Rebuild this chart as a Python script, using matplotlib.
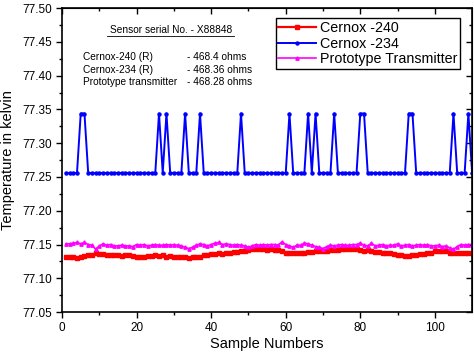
import numpy as np
import matplotlib
matplotlib.use("Agg")
import matplotlib.pyplot as plt

plt.rcParams["font.family"] = ["Liberation Sans", "DejaVu Sans"]

# ------------------ Data ------------------
samples = np.arange(1, 111)

cernox_240 = [
    77.132, 77.131, 77.131, 77.130, 77.131, 77.133, 77.134, 77.135, 77.137, 77.136,
    77.136, 77.135, 77.135, 77.134, 77.134, 77.133, 77.134, 77.134, 77.133, 77.131,
    77.132, 77.132, 77.133, 77.133, 77.134, 77.133, 77.134, 77.132, 77.133, 77.132,
    77.132, 77.131, 77.131, 77.130, 77.131, 77.132, 77.131, 77.134, 77.134, 77.136,
    77.136, 77.137, 77.136, 77.137, 77.138, 77.139, 77.139, 77.140, 77.141, 77.142,
    77.143, 77.144, 77.144, 77.143, 77.142, 77.143, 77.142, 77.142, 77.141, 77.138,
    77.138, 77.138, 77.137, 77.138, 77.138, 77.139, 77.139, 77.140, 77.140, 77.141,
    77.141, 77.142, 77.142, 77.142, 77.143, 77.143, 77.144, 77.144, 77.143, 77.142,
    77.141, 77.142, 77.141, 77.139, 77.139, 77.138, 77.137, 77.137, 77.136, 77.135,
    77.134, 77.133, 77.133, 77.134, 77.135, 77.136, 77.136, 77.137, 77.138, 77.140,
    77.141, 77.141, 77.140, 77.138, 77.137, 77.137, 77.138, 77.138, 77.138, 77.137,
]

# Cernox-234 only toggles between two readings
cernox_234_low = 77.256
cernox_234_high = 77.344
cernox_234_high_at = [5, 6, 26, 28, 33, 37, 48, 61, 66, 68, 73, 80, 81, 93, 94, 105, 109]
cernox_234 = [cernox_234_high if s in cernox_234_high_at else cernox_234_low for s in samples]

prototype = [
    77.151, 77.151, 77.152, 77.153, 77.151, 77.153, 77.150, 77.149, 77.143, 77.148,
    77.151, 77.149, 77.150, 77.148, 77.148, 77.149, 77.148, 77.148, 77.147, 77.150,
    77.149, 77.150, 77.148, 77.149, 77.150, 77.149, 77.149, 77.150, 77.149, 77.150,
    77.149, 77.148, 77.146, 77.144, 77.146, 77.149, 77.151, 77.150, 77.148, 77.150,
    77.152, 77.153, 77.150, 77.151, 77.150, 77.149, 77.150, 77.149, 77.148, 77.146,
    77.148, 77.150, 77.149, 77.150, 77.149, 77.150, 77.150, 77.149, 77.154, 77.150,
    77.148, 77.146, 77.149, 77.149, 77.152, 77.151, 77.149, 77.147, 77.146, 77.144,
    77.147, 77.149, 77.148, 77.149, 77.150, 77.149, 77.149, 77.150, 77.150, 77.152,
    77.149, 77.148, 77.152, 77.148, 77.149, 77.150, 77.148, 77.149, 77.149, 77.151,
    77.148, 77.149, 77.150, 77.148, 77.149, 77.150, 77.149, 77.150, 77.148, 77.148,
    77.149, 77.147, 77.148, 77.145, 77.143, 77.147, 77.150, 77.149, 77.150, 77.150,
]

notes = [
    ("Cernox-240 (R)", "- 468.4 ohms"),
    ("Cernox-234 (R)", "- 468.36 ohms"),
    ("Prototype transmitter", "- 468.28 ohms"),
]

# ------------------ Plot ------------------
fig = plt.figure(figsize=(4.74, 3.55), dpi=100)
ax = fig.add_axes([0.131, 0.121, 0.865, 0.856])

ax.plot(samples, cernox_240, "-s", color="#ff0000", lw=1.6, ms=2.4, label="Cernox -240")
ax.plot(samples, cernox_234, "-o", color="#0000ff", lw=1.4, ms=2.2, label="Cernox -234")
ax.plot(samples, prototype, "-^", color="#ff00ff", lw=1.2, ms=2.4, label="Prototype Transmitter")

ax.set_xlim(0, 110)
ax.set_ylim(77.05, 77.50)
ax.set_xticks([0, 20, 40, 60, 80, 100])
ax.set_xticks(np.arange(10, 110, 20), minor=True)
ax.set_yticks(np.arange(77.05, 77.501, 0.05))
ax.set_yticks(np.arange(77.075, 77.5, 0.05), minor=True)
ax.set_yticklabels(["%.2f" % v for v in np.arange(77.05, 77.501, 0.05)])

ax.tick_params(axis="both", which="both", direction="out", labelsize=8.5, width=1)
ax.tick_params(which="major", length=4)
ax.tick_params(which="minor", length=2.5)
# mirrored ticks on top/right point inward
sec_x = ax.secondary_xaxis("top")
sec_x.set_xticks([0, 20, 40, 60, 80, 100], labels=[])
sec_x.set_xticks(np.arange(10, 110, 20), minor=True)
sec_x.tick_params(which="both", direction="in", width=1)
sec_x.tick_params(which="major", length=4)
sec_x.tick_params(which="minor", length=2.5)
sec_y = ax.secondary_yaxis("right")
sec_y.set_yticks(np.arange(77.05, 77.501, 0.05), labels=[])
sec_y.set_yticks(np.arange(77.075, 77.5, 0.05), minor=True)
sec_y.tick_params(which="both", direction="in", width=1)
sec_y.tick_params(which="major", length=4)
sec_y.tick_params(which="minor", length=2.5)

for sp in ax.spines.values():
    sp.set_linewidth(1.2)

ax.set_xlabel("Sample Numbers", fontsize=10.5, labelpad=2)
ax.set_ylabel("Temperature in kelvin", fontsize=10.5, labelpad=5)

leg = ax.legend(loc="upper right", fontsize=10.3, fancybox=False, edgecolor="black",
                framealpha=1, borderpad=0.2, labelspacing=0.1, handlelength=2.6,
                handletextpad=0.3, borderaxespad=0.4, bbox_to_anchor=(0.985, 0.985))
leg.get_frame().set_linewidth(1.0)

# Annotation block
ax.text(0.265, 0.918, "Sensor serial No. - X88848", transform=ax.transAxes,
        fontsize=7.3, ha="center", va="baseline")
ax.plot([0.11, 0.42], [0.91, 0.91], transform=ax.transAxes, color="black",
        lw=0.6, clip_on=False)
for i, (name, val) in enumerate(notes):
    y = 0.84 - i * 0.042
    ax.text(0.052, y, name, transform=ax.transAxes, fontsize=7.3, va="center")
    ax.text(0.305, y, val, transform=ax.transAxes, fontsize=7.3, va="center")

fig.savefig("out.png", dpi=100)
